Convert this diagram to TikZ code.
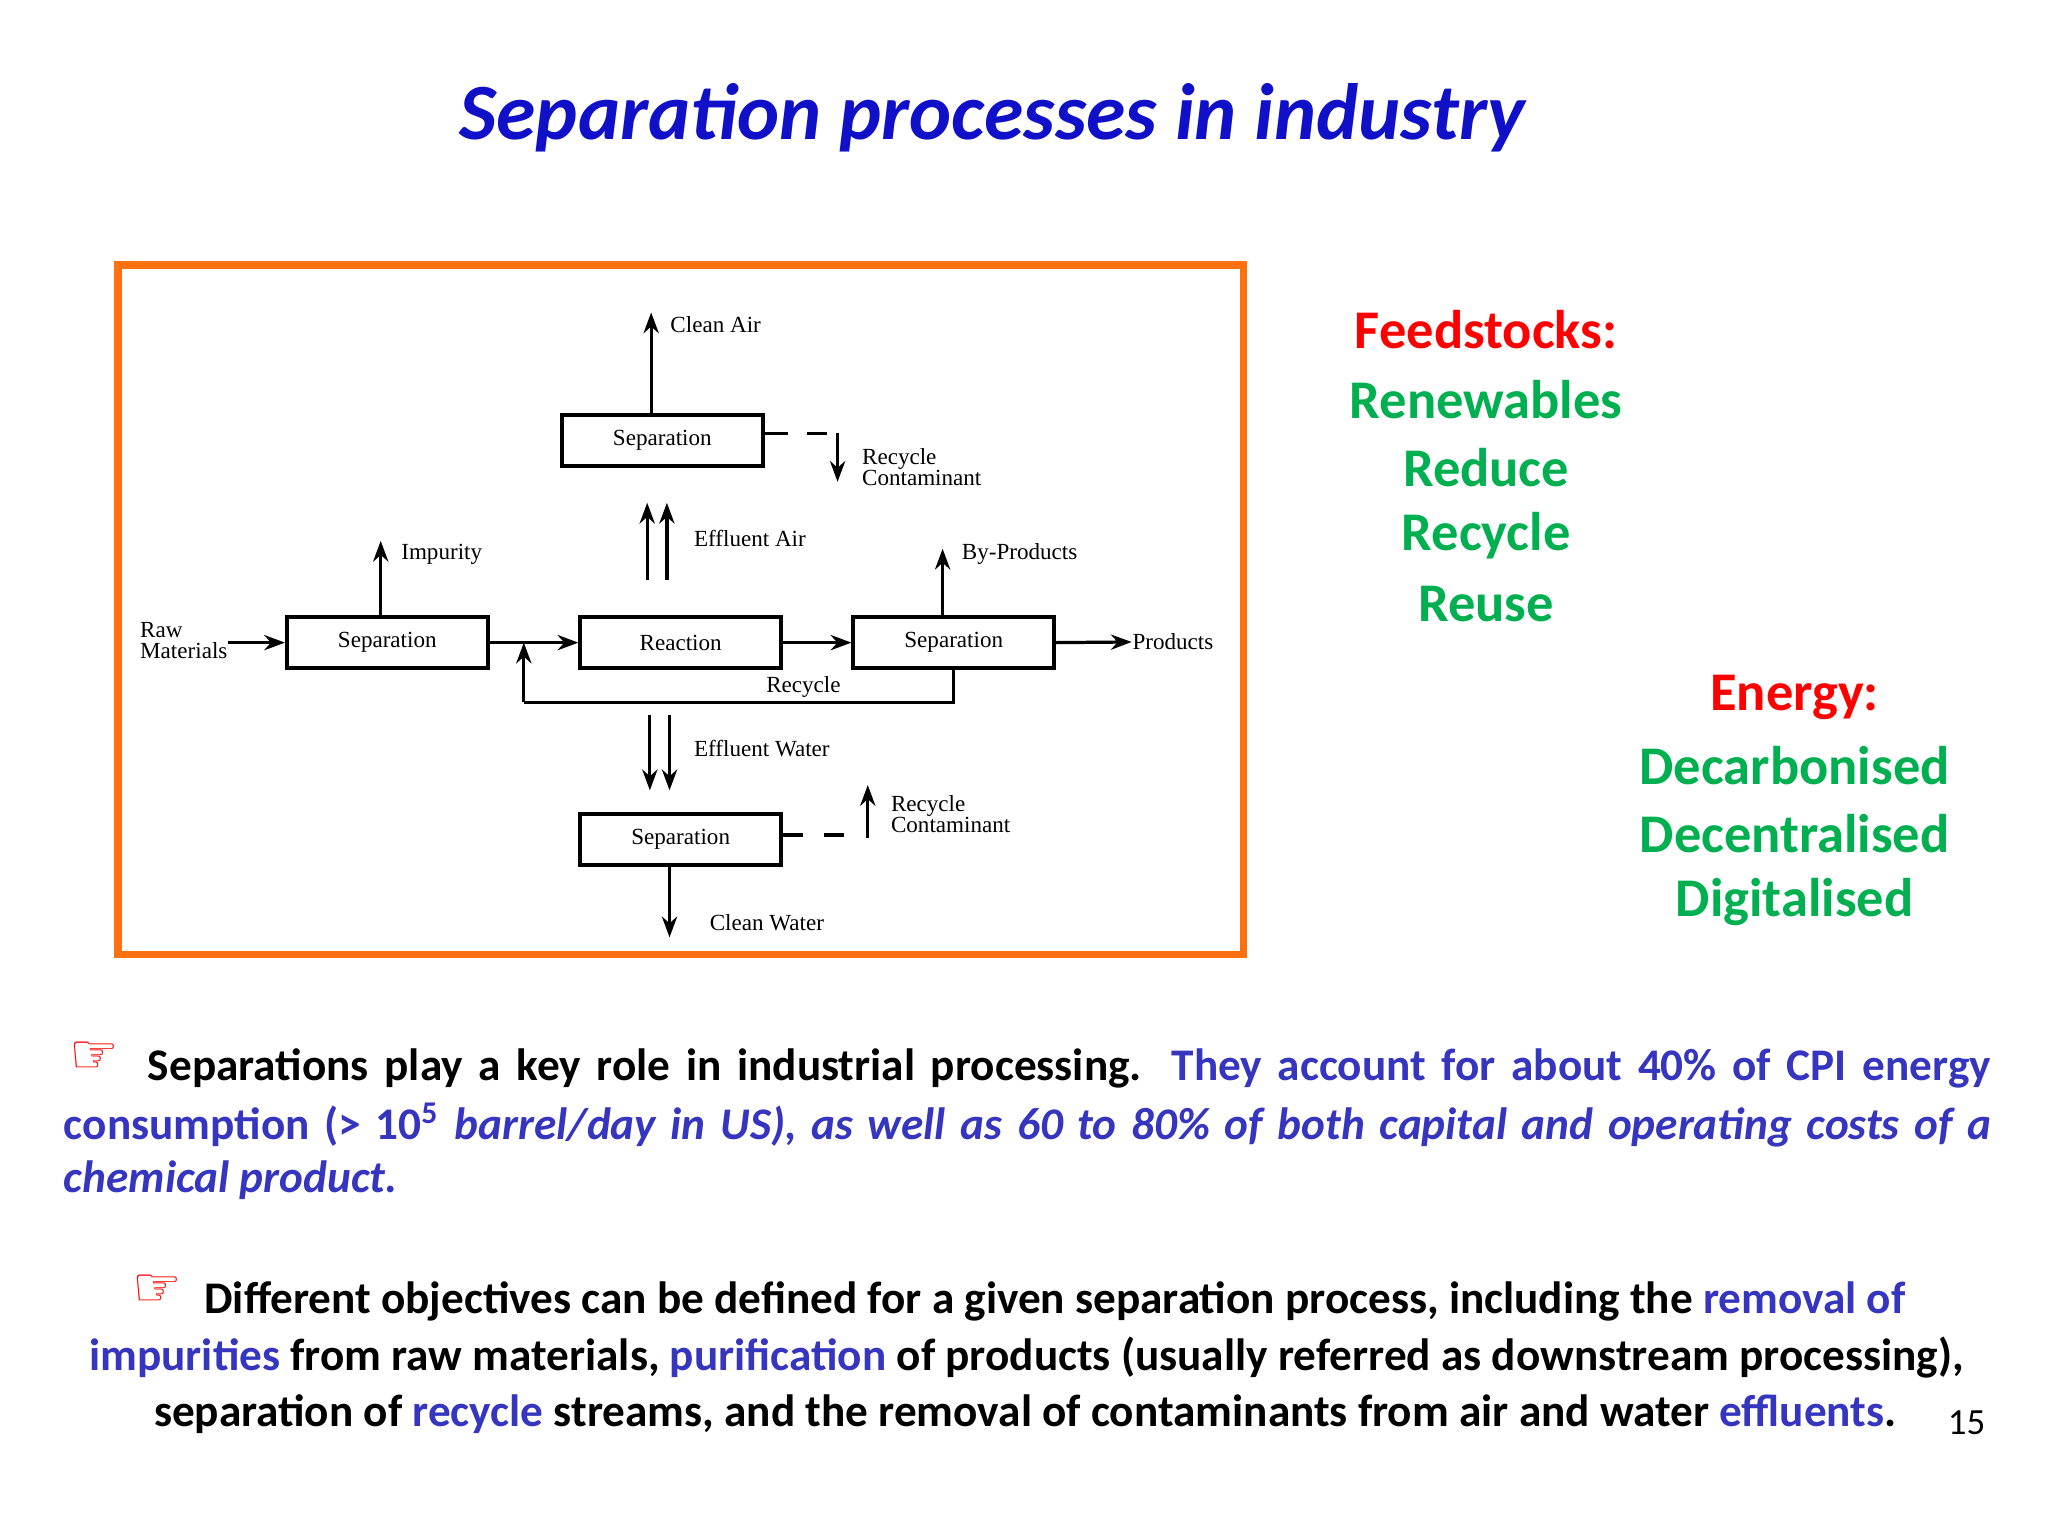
\documentclass[tikz,border=0pt]{standalone}
\usepackage{fontspec}
\setmainfont{Carlito}
\newfontfamily\tms{Liberation Serif}
\newfontfamily\djv{DejaVu Sans}
\usetikzlibrary{arrows.meta}
\definecolor{ttl}{HTML}{1010C8}
\definecolor{bl}{HTML}{3535C0}
\definecolor{gr}{HTML}{00B050}
\definecolor{org}{HTML}{FF7010}
\begin{document}
\begin{tikzpicture}[x=0.01cm,y=-0.01cm,
  box/.style={draw,line width=0.8pt,minimum width=1.53cm,minimum height=0.39cm,font=\tms\fontsize{5}{6}\selectfont,inner sep=0pt},
  lab/.style={font=\tms\fontsize{5}{4.6}\selectfont,anchor=west,inner sep=0pt,align=left},
  ar/.style={line width=0.7pt,-{Stealth[length=4.5pt,width=3.3pt]}},
  ln/.style={line width=0.7pt},
  side/.style={font=\bfseries\fontsize{11.8}{14}\selectfont,inner sep=0pt},
  body/.style={font=\bfseries\fontsize{9.8}{12}\selectfont,inner sep=0pt}]
\useasboundingbox[fill=white] (0,0) rectangle (1560,1170);
\node[font=\bfseries\itshape\fontsize{17.3}{20}\selectfont,text=ttl] (title) at (756,90) {Separation processes in industry};
\draw[org,line width=1.6pt] (90,202) rectangle (947,727);
% boxes
\node[box] (st) at (504.5,335.5) {Separation};
\node[box] (sl) at (295,489.5) {Separation};
\node[box] (re) at (518.5,489.5) {Reaction};
\node[box] (sr) at (726.5,489.5) {Separation};
\node[box] (sb) at (518.5,639.5) {Separation};
% top
\coordinate (ca) at (496,238);
\draw[ar] (st.north -| ca) -- (ca);
\node[lab] (lca) at (510,247) {Clean Air};
\coordinate (d1) at (600,330); \coordinate (d2) at (615,330); \coordinate (d3) at (638,330); \coordinate (d4) at (638,367);
\draw[ln] (st.east |- d1) -- (d1);
\draw[ln] (d2) -- (630,330);
\draw[ar] (d3) -- (d4);
\node[lab] (rc1) at (656,356) {Recycle\\Contaminant};
\coordinate (ea1) at (493,442); \coordinate (ea2) at (508,442);
\draw[ar] (ea1) -- (493,383);
\draw[ar] (ea2) -- (508,383);
\node[lab] (lea) at (528,410) {Effluent Air};
% middle
\coordinate (imp) at (290,412);
\draw[ar] (sl.north -| imp) -- (imp);
\node[lab] (limp) at (305,422) {Impurity};
\node[lab,anchor=center] (raw) at (140,488) {Raw\\Materials};
\draw[ar] (raw.east |- sl.west) -- (sl.west);
\draw[ar] (sl) -- (re);
\draw[ar] (re) -- (sr);
\coordinate (rl) at (399,535);
\draw[ln] (sr.south) -- (sr.south |- rl) -- (rl);
\draw[ar] (rl) -- (rl |- sl.east);
\node[lab] (lrec) at (583,523) {Recycle};
\coordinate (bp) at (718,418);
\draw[ar] (sr.north -| bp) -- (bp);
\node[lab] (lbp) at (732,422) {By-Products};
\node[lab] (prod) at (862,489) {Products};
\draw[ar] (sr.east) -- (prod.west);
% bottom
\coordinate (ew1) at (495,545); \coordinate (ew2) at (510,545);
\draw[ar] (ew1) -- (495,602);
\draw[ar] (ew2) -- (510,602);
\node[lab] (lew) at (528,570) {Effluent Water};
\coordinate (b1) at (612,636); \coordinate (b2) at (628,636); \coordinate (b3) at (661,638); \coordinate (b4) at (661,598);
\draw[ln] (sb.east |- b1) -- (b1);
\draw[ln] (b2) -- (643,636);
\draw[ar] (b3) -- (b4);
\node[lab] (rc2) at (678,620) {Recycle\\Contaminant};
\coordinate (cw) at (510,714);
\draw[ar] (sb.south -| cw) -- (cw);
\node[lab] (lcw) at (540,703) {Clean Water};
% right side
\node[side,red] (fs) at (1132,251) {Feedstocks:};
\node[side,gr] (g1) at (1132,304) {Renewables};
\node[side,gr] (g2) at (1132,356) {Reduce};
\node[side,gr] (g3) at (1132,408) {Recycle};
\node[side,gr] (g4) at (1132,460) {Reuse};
\node[side,red] (en) at (1367,531) {Energy:};
\node[side,gr] (e1) at (1367,583) {Decarbonised};
\node[side,gr] (e2) at (1367,635) {Decentralised};
\node[side,gr] (e3) at (1367,687) {Digitalised};
% paragraph 1
\node[text=red,anchor=west,inner sep=0pt] (h1) at (52,806) {\normalfont\djv\fontsize{12}{12}\selectfont ☞};
\node[body,anchor=west] (p11) at (112,814) {\makebox[14.03cm][s]{Separations play a key role in industrial processing. \textcolor{bl}{They account for about 40\% of CPI energy}}};
\node[body,anchor=west,text=bl] (p12) at (48,857) {\makebox[14.67cm][s]{consumption (> 10\textsuperscript{5} \textit{barrel/day in US), as well as 60 to 80\% of both capital and operating costs of a}}};
\node[body,anchor=west,text=bl] (p13) at (48,899) {\textit{chemical product.}};
% paragraph 2
\node[text=red,anchor=west,inner sep=0pt] (h2) at (100,983) {\normalfont\djv\fontsize{12}{12}\selectfont ☞};
\node[body,anchor=west] (p21) at (155,991) {Different objectives can be defined for a given separation process, including the \textcolor{bl}{removal of}};
\node[body] (p22) at (782,1034) {\textcolor{bl}{impurities} from raw materials, \textcolor{bl}{purification} of products (usually referred as downstream processing),};
\node[body] (p23) at (781,1077) {separation of \textcolor{bl}{recycle} streams, and the removal of contaminants from air and water \textcolor{bl}{effluents}.};
\node[font=\fontsize{8}{9}\selectfont] (pg) at (1498,1084) {15};
\end{tikzpicture}
\end{document}
